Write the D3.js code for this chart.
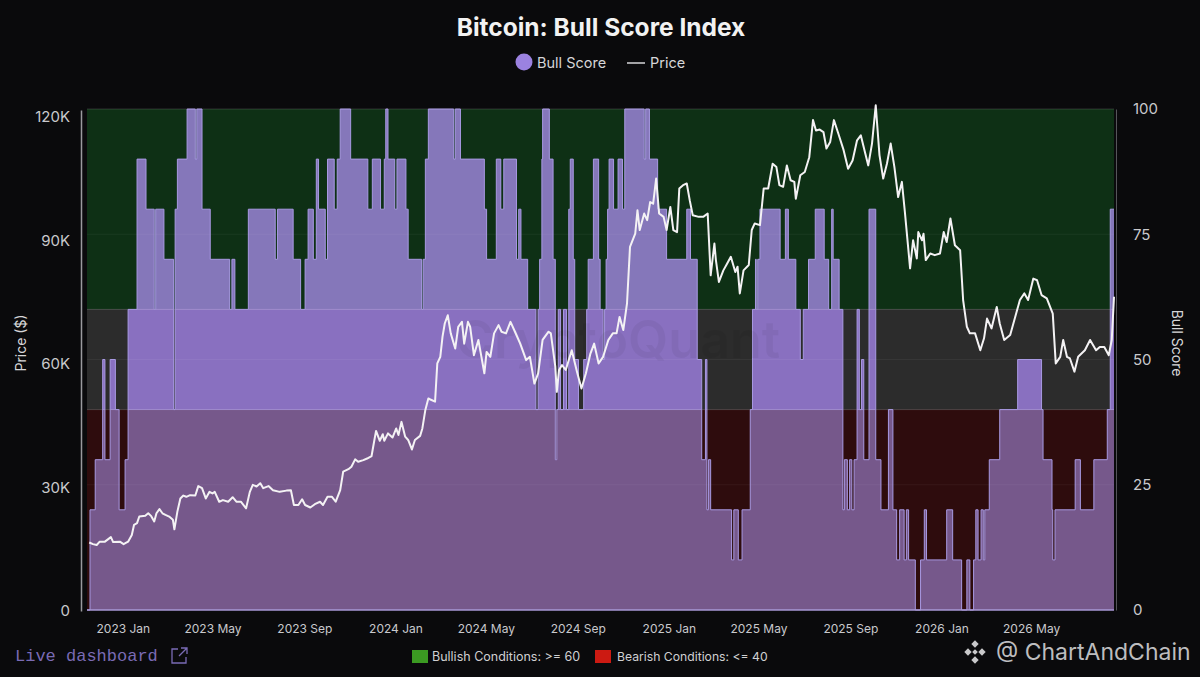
<!DOCTYPE html>
<html lang="en">
<head>
<meta charset="UTF-8">
<title>Bitcoin: Bull Score Index</title>
<script src="https://d3js.org/d3.v7.min.js"></script>
<style>
html,body{margin:0;padding:0;background:#0a0a0c;}
svg{display:block;}
text{font-family:Inter,"Noto Sans",sans-serif;}
.tick text{fill:#c9c9cc;font-size:15px;}
</style>
</head>
<body>
<svg id="chart" width="1200" height="677"></svg>
<script>
// all dates are days counted from firstDay
const firstDay = new Date(Date.UTC(2022, 10, 14));
const lastDayNum = 1375;

// bull score, read as steps: the level holds from that day until the next entry
const scoreDays = [0,4,11,21,24,31,38,43,51,55,67,79,90,92,103,116,118,121,134,145,147,154,165,191,194,198,216,252,255,276,286,292,296,303,307,310,319,322,331,335,339,353,376,382,393,398,400,403,412,415,427,430,448,450,453,
457,491,493,500,532,535,548,554,558,575,578,581,590,601,604,606,609,610,619,624,627,629,631,634,638,642,645,647,651,653,658,665,669,671,678,685,687,691,693,695,697,699,705,711,717,720,746,748,753,764,776,803,808,817,823,828,830,832,835,863,866,872,877,888,891,895,896,898,901,
928,935,939,949,955,959,966,975,987,993,997,999,1007,1012,1014,1018,1021,1024,1027,1031,1034,1037,1040,1047,1056,1063,1073,1079,1084,1088,1094,1097,1100,1109,1116,1121,1124,1151,1159,1171,1178,1182,1187,1190,1193,1197,1200,1202,1208,1222,1246,1278,1280,1292,1293,1296,1323,1330,1348,1366,1370,1375];
const scoreLevels = [0,20,30,50,30,50,40,20,30,60,90,80,60,80,70,40,80,90,100,90,100,80,70,60,70,60,80,70,80,70,60,70,80,70,90,80,70,90,80,90,100,90,80,90,80,90,100,90,80,90,80,70,60,70,90,
100,90,100,90,80,70,90,80,90,70,80,70,60,40,60,70,90,100,90,70,30,40,60,40,60,40,80,90,70,50,40,50,60,70,90,70,60,50,60,70,80,90,80,90,80,100,90,100,90,80,70,80,70,50,30,50,20,30,20,10,20,10,20,40,60,70,60,70,80,
70,80,70,60,50,60,70,80,70,60,80,70,60,20,30,20,30,20,30,60,40,50,30,80,30,20,40,20,10,20,10,20,10,0,10,20,10,20,10,0,10,0,10,20,10,20,10,20,30,40,50,40,30,20,10,20,30,20,30,40,80,80];

// price in thousand dollars
const priceDays = [3,8,13,17,24,32,35,44,49,55,60,63,67,70,78,82,86,90,93,97,101,105,110,115,117,121,125,129,133,138,145,149,154,159,164,168,171,177,182,189,195,200,206,213,218,222,227,232,236,243,249,258,267,273,277,283,288,292,299,305,312,316,322,328,333,339,343,350,354,359,363,370,375,381,384,387,392,396,398,403,409,414,417,421,426,430,435,439,446,449,453,457,
459,466,469,473,476,479,483,487,493,497,502,505,510,513,518,524,532,535,540,545,551,555,561,567,573,580,588,593,599,604,610,618,621,627,629,632,636,641,649,656,662,668,674,679,685,691,698,704,709,713,718,723,727,734,737,740,746,750,754,758,762,766,772,776,781,785,790,793,798,803,807,811,819,825,831,835,840,842,846,852,856,862,868,871,874,879,886,890,894,901,906,912,
918,923,927,932,937,942,947,949,955,961,967,972,976,981,986,990,995,1000,1006,1013,1019,1025,1031,1036,1042,1046,1051,1056,1061,1066,1071,1076,1081,1086,1091,1095,1102,1106,1111,1113,1118,1120,1123,1129,1135,1142,1147,1151,1156,1162,1169,1173,1178,1182,1189,1196,1201,1205,1211,1218,1222,1228,1236,1244,1249,1255,1260,1267,1272,1278,1285,1293,1297,1303,1307,1312,1316,1322,1327,1336,1343,1351,1356,1362,1368,1372,1375];
const priceK = [16.4,16.0,15.8,16.6,16.6,17.7,16.5,16.6,16.0,16.6,18.2,20.7,21.1,22.7,22.9,23.5,22.8,21.5,23.5,24.5,23.5,23.1,22.7,21.9,19.6,23.9,27.1,27.8,27.5,27.9,27.8,30.1,29.6,27.1,28.7,28.3,28.7,26.3,26.7,26.3,27.4,26.3,26.3,24.7,28.7,30.4,30.0,30.8,29.6,30.1,29.1,28.7,29.0,29.1,25.5,25.5,26.9,25.5,24.9,25.7,26.3,25.5,27.5,27.5,26.3,29.1,33.6,34.2,34.8,36.6,36.0,36.4,36.8,37.4,40.5,43.5,41.1,42.7,41.1,42.9,41.9,44.1,42.5,45.7,42.1,41.3,39.0,41.3,42.3,44.1,48.6,51.4,
51.2,50.6,59.9,61.5,66.4,69.6,71.6,67.2,63.5,68.8,70.0,64.7,70.0,68.8,61.9,65.6,57.5,62.7,61.5,67.2,69.2,67.6,67.2,70.0,67.6,64.7,60.7,61.5,55.0,57.5,65.6,67.6,67.2,59.1,53.0,58.3,59.5,58.3,63.1,57.9,53.8,57.5,62.3,64.7,59.9,61.5,65.6,67.2,67.2,71.2,68.0,74.5,88.2,91.4,97.1,92.3,96.3,94.7,99.1,98.7,104.8,96.3,95.5,92.3,97.9,92.3,91.8,102.4,103.2,103.6,99.5,95.9,95.5,95.5,96.3,81.3,89.0,85.0,79.7,82.5,83.8,85.8,82.1,83.4,76.9,82.5,83.8,92.3,93.9,93.5,102.4,102.4,
108.4,107.6,103.2,102.8,108.0,104.4,104.0,99.9,105.6,106.4,110.0,119.0,116.5,116.7,116.1,112.1,113.7,119.0,115.7,111.7,107.2,109.2,114.1,115.3,110.9,108.0,113.3,122.6,110.5,104.8,108.4,113.3,107.6,100.3,104.0,96.7,83.0,89.8,85.4,91.8,89.8,91.4,85.0,86.6,86.2,86.6,91.8,89.4,95.1,88.6,87.4,75.3,68.8,67.2,67.2,63.1,66.0,70.8,68.4,73.6,69.6,65.6,66.8,72.0,75.3,76.9,75.3,80.5,80.1,76.5,75.7,72.0,59.9,61.5,65.6,61.5,61.1,57.9,61.5,63.1,65.6,63.1,63.9,63.9,61.9,65.6,76.1];

const priceTicks = [0,30,60,90,120];
const scoreTicks = [0,25,50,75,100];
const monthTicks = [[2023,0],[2023,4],[2023,8],[2024,0],[2024,4],[2024,8],[2025,0],[2025,4],[2025,8],[2026,0],[2026,4]];
const bandEdges = [100,60,40,0];
const bandColors = ["#0e3015","#2c2c2c","#2e0c0d"];
const areaColors = ["#8577ba","#8970c0","#76588b"];

const dayDate = d => d3.utcDay.offset(firstDay, d);
const margin = {left:87, right:1114, top:109, bottom:610};

const x = d3.scaleUtc().domain([firstDay, dayDate(lastDayNum)]).range([margin.left, margin.right]);
const yScore = d3.scaleLinear().domain([0,100]).range([margin.bottom, margin.top]);
const yPrice = d3.scaleLinear().domain([0,121.7]).range([margin.bottom, margin.top]);

const svg = d3.select("#chart");

// zones
svg.selectAll("rect.band").data(bandColors).enter().append("rect")
	.attr("class","band")
	.attr("x",margin.left).attr("width",margin.right-margin.left)
	.attr("y",(d,i)=>yScore(bandEdges[i]))
	.attr("height",(d,i)=>yScore(bandEdges[i+1])-yScore(bandEdges[i]))
	.attr("fill",d=>d);

// gradient with hard stops so the purple changes per zone
const grad = svg.append("defs").append("linearGradient").attr("id","scoreFill")
	.attr("gradientUnits","userSpaceOnUse")
	.attr("x1",0).attr("x2",0).attr("y1",margin.top).attr("y2",margin.bottom);
areaColors.forEach((c,i)=>{
	const a = (yScore(bandEdges[i])-margin.top)/(margin.bottom-margin.top);
	const b = (yScore(bandEdges[i+1])-margin.top)/(margin.bottom-margin.top);
	grad.append("stop").attr("offset",a).attr("stop-color",c);
	grad.append("stop").attr("offset",b).attr("stop-color",c);
});

const scorePts = scoreDays.map((d,i)=>({date:dayDate(d),v:scoreLevels[i]}));

svg.append("path").datum(scorePts)
	.attr("fill","url(#scoreFill)")
	.attr("d",d3.area().curve(d3.curveStepAfter).x(d=>x(d.date)).y0(yScore(0)).y1(d=>yScore(d.v)));

// grid lines
svg.append("g").selectAll("line").data(scoreTicks.slice(1,4)).enter().append("line")
	.attr("x1",margin.left).attr("x2",margin.right)
	.attr("y1",d=>yScore(d)).attr("y2",d=>yScore(d))
	.attr("stroke","#fff").attr("stroke-opacity",0.05);
svg.append("g").selectAll("line").data([100,60,40]).enter().append("line")
	.attr("x1",margin.left).attr("x2",margin.right)
	.attr("y1",d=>yScore(d)).attr("y2",d=>yScore(d))
	.attr("stroke","#fff").attr("stroke-opacity",d=>d==100?0.14:0.2);

svg.append("path").datum(scorePts)
	.attr("fill","none").attr("stroke","#a899e2").attr("stroke-width",1)
	.attr("d",d3.line().curve(d3.curveStepAfter).x(d=>x(d.date)).y(d=>yScore(d.v)));
svg.append("line").attr("x1",margin.left).attr("x2",margin.right)
	.attr("y1",yScore(0)).attr("y2",yScore(0)).attr("stroke","#a899d6").attr("stroke-width",1.5);

// faint watermark
svg.append("text").attr("x",618).attr("y",358).attr("text-anchor","middle")
	.attr("font-size",52).attr("font-weight",600).attr("fill","#000").attr("fill-opacity",0.05)
	.text("CryptoQuant");

// price
svg.append("path").datum(priceDays.map((d,i)=>({date:dayDate(d),v:priceK[i]})))
	.attr("fill","none").attr("stroke","#f4f2f4").attr("stroke-width",2).attr("stroke-linejoin","round")
	.attr("d",d3.line().x(d=>x(d.date)).y(d=>yPrice(d.v)));

// axes
svg.append("g").attr("transform",`translate(${margin.left-6},1)`)
	.call(d3.axisLeft(yPrice).tickValues(priceTicks).tickFormat(d=>d?d+"K":"0").tickSize(0).tickPadding(11))
	.call(g=>g.select(".domain").attr("stroke","#9a9a9e").attr("stroke-width",1.5));
svg.append("g").attr("transform",`translate(${margin.right+2},0)`)
	.call(d3.axisRight(yScore).tickValues(scoreTicks).tickSize(0).tickPadding(17))
	.call(g=>g.select(".domain").attr("stroke","#55555a"));
svg.append("g").attr("transform",`translate(0,${margin.bottom+14})`)
	.call(d3.axisBottom(x).tickValues(monthTicks.map(m=>new Date(Date.UTC(m[0],m[1],1))))
		.tickFormat(d3.utcFormat("%Y %b")).tickSize(0).tickPadding(0))
	.call(g=>g.select(".domain").remove())
	.call(g=>g.selectAll("text").style("font-size","12px"));

svg.append("text").attr("transform","translate(26,343) rotate(-90)").attr("text-anchor","middle")
	.attr("fill","#d6d6d8").attr("font-size",14).text("Price ($)");
svg.append("text").attr("transform","translate(1172,343) rotate(90)").attr("text-anchor","middle")
	.attr("fill","#d6d6d8").attr("font-size",14).text("Bull Score");

// title + top legend
svg.append("text").attr("x",601).attr("y",36).attr("text-anchor","middle")
	.attr("fill","#f2f2f2").attr("font-size",24.5).attr("font-weight",700).text("Bitcoin: Bull Score Index");
svg.append("circle").attr("cx",524).attr("cy",62).attr("r",8.5).attr("fill","#9b82e0");
svg.append("text").attr("x",537).attr("y",68).attr("fill","#d6d6d8").attr("font-size",14.5).text("Bull Score");
svg.append("line").attr("x1",627).attr("x2",645).attr("y1",63).attr("y2",63).attr("stroke","#d6d6d8").attr("stroke-width",1.5);
svg.append("text").attr("x",650).attr("y",68).attr("fill","#d6d6d8").attr("font-size",14.5).text("Price");

// footer
svg.append("text").attr("x",15).attr("y",661).attr("fill","#7a6bb5")
	.style("font-family","'Liberation Mono',monospace").attr("font-size",17).text("Live dashboard");
const link = svg.append("g").attr("fill","none").attr("stroke","#7a6bb5").attr("stroke-width",1.3);
link.append("path").attr("d","M178 649 H172 V663 H186 V657");
link.append("path").attr("d","M179 656 L187 648 M181 648 H187 V654");

svg.append("rect").attr("x",412).attr("y",650).attr("width",16).attr("height",13).attr("fill","#3b9a22");
svg.append("text").attr("x",432).attr("y",661).attr("fill","#d0d0d2").attr("font-size",12.5).text("Bullish Conditions: >= 60");
svg.append("rect").attr("x",595).attr("y",650).attr("width",16).attr("height",13).attr("fill","#cc1a12");
svg.append("text").attr("x",617).attr("y",661).attr("fill","#d0d0d2").attr("font-size",12.2).text("Bearish Conditions: <= 40");

// small diamond mark next to the handle
const mark = svg.append("g").attr("transform","translate(975,652)").attr("fill","#c9c9cb");
[[0,-8],[-7,0],[7,0],[0,8]].forEach(p=>{
	mark.append("rect").attr("x",p[0]-2.6).attr("y",p[1]-2.6).attr("width",5.2).attr("height",5.2)
		.attr("transform",`rotate(45 ${p[0]} ${p[1]})`);
});
mark.append("rect").attr("x",-2).attr("y",-2).attr("width",4).attr("height",4).attr("transform","rotate(45)");
svg.append("text").attr("x",996).attr("y",660).attr("fill","#bdbdbf").attr("font-size",23).text("@ ChartAndChain");
</script>
</body>
</html>
